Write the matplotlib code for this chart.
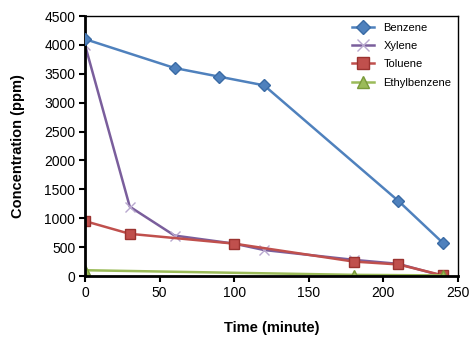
import matplotlib
matplotlib.use("Agg")
import matplotlib.pyplot as plt

plt.rcParams['font.family'] = ['Liberation Sans', 'DejaVu Sans']

# sampling times (minute) and concentrations (ppm)
benzene_t = [0, 60, 90, 120, 210, 240]
benzene_c = [4100, 3600, 3450, 3300, 1300, 570]

xylene_t = [0, 30, 60, 100, 120, 180, 210, 240]
xylene_c = [4000, 1200, 700, 560, 450, 280, 210, 0]

toluene_t = [0, 30, 100, 180, 210, 240]
toluene_c = [950, 730, 560, 250, 200, 10]

ethyl_t = [0, 180, 240]
ethyl_c = [100, 20, 10]

fig = plt.figure(figsize=(4.74, 3.41), dpi=100)
ax = fig.add_axes([85 / 474, 1 - 276 / 341, 373 / 474, 260 / 341])

ax.plot(benzene_t, benzene_c, color='#4F81BD', lw=1.8, marker='D', ms=6,
        mfc='#4F81BD', mec='#3A6BA5', label='Benzene', zorder=3)
ax.plot(xylene_t, xylene_c, color='#7A5E9C', lw=1.8, marker='x', ms=7,
        mec='#B8A8CF', mew=1.0, label='Xylene', zorder=2)
ax.plot(toluene_t, toluene_c, color='#C0504D', lw=1.8, marker='s', ms=7,
        mfc='#C0504D', mec='#9B3330', label='Toluene', zorder=2)
ax.plot(ethyl_t, ethyl_c, color='#9BBB59', lw=1.8, marker='^', ms=7,
        mfc='#9BBB59', mec='#7A9A3A', label='Ethylbenzene', zorder=2)

ax.set_xlim(0, 250)
ax.set_ylim(0, 4500)
ax.set_xticks(range(0, 251, 50))
ax.set_yticks(range(0, 4501, 500))
ax.tick_params(direction='out', length=4, width=1.5, labelsize=10, pad=3)

for side in ['left', 'bottom']:
    ax.spines[side].set_linewidth(2)
for side in ['top', 'right']:
    ax.spines[side].set_linewidth(1)

ax.set_xlabel('Time (minute)', fontsize=10.5, fontweight='bold', labelpad=15)
ax.set_ylabel('Concentration (ppm)', fontsize=10.5, fontweight='bold', labelpad=14)

ax.legend(loc='upper right', frameon=False, fontsize=8, handlelength=2.0,
          borderaxespad=0.2, labelspacing=0.75, markerscale=1.2)

fig.savefig('out.png', dpi=100)
